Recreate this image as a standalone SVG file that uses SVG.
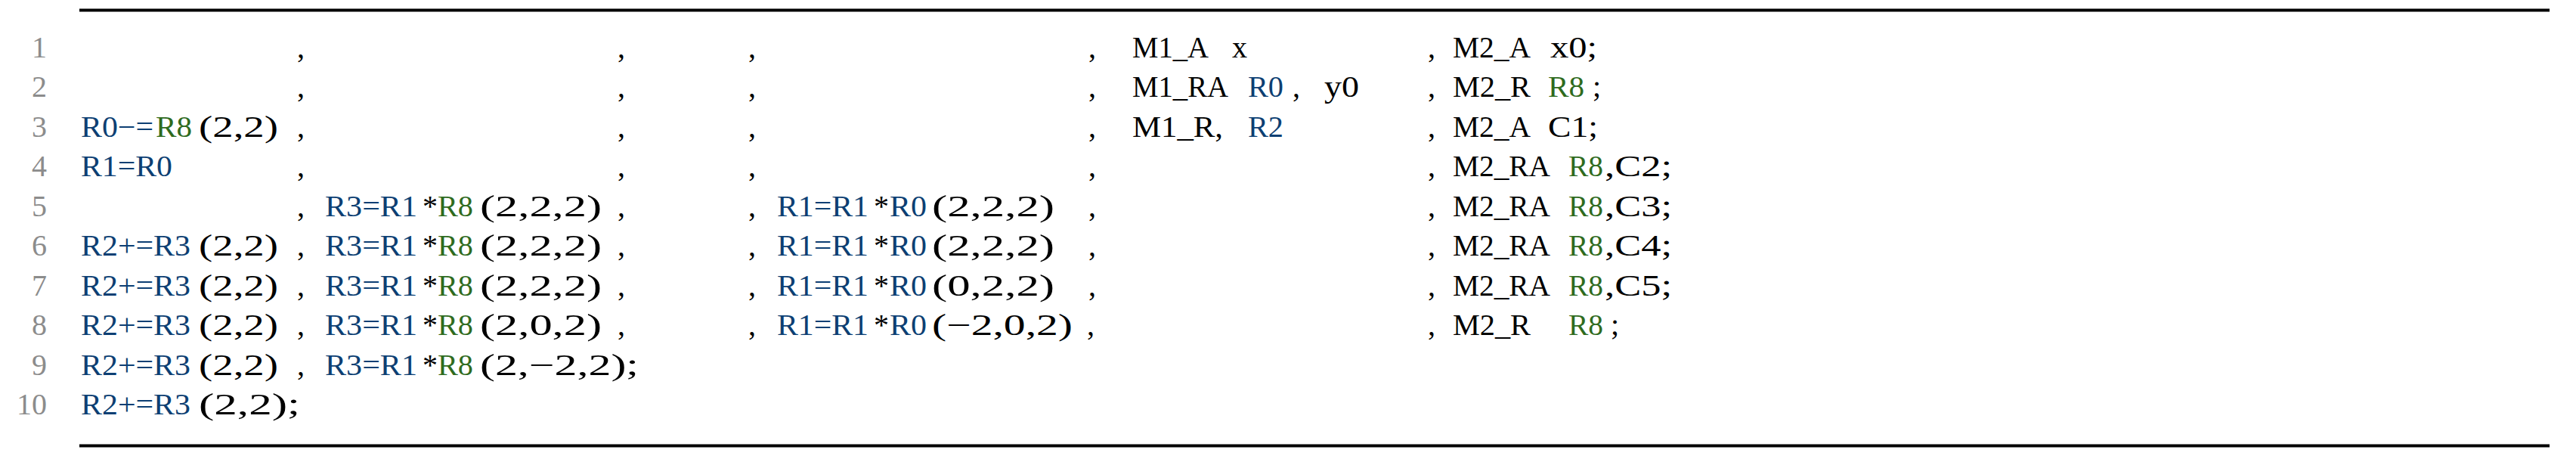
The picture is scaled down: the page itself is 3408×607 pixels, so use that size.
<svg xmlns="http://www.w3.org/2000/svg" width="3408" height="607" viewBox="0 0 3408 607">
<style>
text{font-family:"Liberation Serif","DejaVu Serif",serif;font-size:40px;fill:#000}
.n{fill:#8c8c8c;text-anchor:end}
.b{fill:#0d3f73}
.g{fill:#2f6b1e}
</style>
<rect width="3408" height="607" fill="#fff"/>
<g id="rules" stroke="#000" stroke-width="4">
<line x1="105" y1="13.5" x2="3373" y2="13.5"/>
<line x1="105" y1="589.5" x2="3373" y2="589.5"/>
</g>
<g id="numbers">
<text class="n" x="62" y="75.5">1</text><text class="n" x="62" y="128">2</text><text class="n" x="62" y="180.5">3</text><text class="n" x="62" y="233">4</text><text class="n" x="62" y="285.5">5</text><text class="n" x="62" y="338">6</text><text class="n" x="62" y="390.5">7</text><text class="n" x="62" y="443">8</text><text class="n" x="62" y="495.5">9</text><text class="n" x="62" y="548">10</text>
</g>
<g id="row1">
<text x="393" y="75.5">,</text><text x="817" y="75.5">,</text><text x="990" y="75.5">,</text><text x="1440" y="75.5">,</text>
<text x="1498" y="75.5" textLength="101" lengthAdjust="spacingAndGlyphs">M1_A</text><text x="1630" y="75.5">x</text>
<text x="1889" y="75.5">,</text><text x="1922" y="75.5" textLength="103" lengthAdjust="spacingAndGlyphs">M2_A</text><text x="2051" y="75.5" textLength="62" lengthAdjust="spacingAndGlyphs">x0;</text>
</g>
<g id="row2">
<text x="393" y="128">,</text><text x="817" y="128">,</text><text x="990" y="128">,</text><text x="1440" y="128">,</text>
<text x="1498" y="128" textLength="127" lengthAdjust="spacingAndGlyphs">M1_RA</text><text class="b" x="1651" y="128" textLength="47" lengthAdjust="spacingAndGlyphs">R0</text><text x="1710" y="128">,</text><text x="1752" y="128" textLength="46" lengthAdjust="spacingAndGlyphs">y0</text>
<text x="1889" y="128">,</text><text x="1922" y="128" textLength="103" lengthAdjust="spacingAndGlyphs">M2_R</text><text class="g" x="2048" y="128" textLength="48" lengthAdjust="spacingAndGlyphs">R8</text><text x="2107" y="128">;</text>
</g>
<g id="row3">
<text class="b" x="107" y="180.5" textLength="96" lengthAdjust="spacingAndGlyphs">R0−=</text><text class="g" x="206" y="180.5" textLength="48" lengthAdjust="spacingAndGlyphs">R8</text><text x="263" y="180.5" textLength="105" lengthAdjust="spacingAndGlyphs">(2,2)</text>
<text x="393" y="180.5">,</text><text x="817" y="180.5">,</text><text x="990" y="180.5">,</text><text x="1440" y="180.5">,</text>
<text x="1498" y="180.5" textLength="120" lengthAdjust="spacingAndGlyphs">M1_R,</text><text class="b" x="1651" y="180.5" textLength="47" lengthAdjust="spacingAndGlyphs">R2</text>
<text x="1889" y="180.5">,</text><text x="1922" y="180.5" textLength="103" lengthAdjust="spacingAndGlyphs">M2_A</text><text x="2048" y="180.5" textLength="66" lengthAdjust="spacingAndGlyphs">C1;</text>
</g>
<g id="row4">
<text class="b" x="107" y="233" textLength="121" lengthAdjust="spacingAndGlyphs">R1=R0</text>
<text x="393" y="233">,</text><text x="817" y="233">,</text><text x="990" y="233">,</text><text x="1440" y="233">,</text>
<text x="1889" y="233">,</text><text x="1922" y="233" textLength="129" lengthAdjust="spacingAndGlyphs">M2_RA</text><text class="g" x="2075" y="233" textLength="46" lengthAdjust="spacingAndGlyphs">R8</text><text x="2123" y="233" textLength="89" lengthAdjust="spacingAndGlyphs">,C2;</text>
</g>
<g id="row5">
<text x="393" y="285.5">,</text>
<text class="b" x="430" y="285.5" textLength="122" lengthAdjust="spacingAndGlyphs">R3=R1</text><text x="559" y="285.5">*</text><text class="g" x="579" y="285.5" textLength="47" lengthAdjust="spacingAndGlyphs">R8</text><text x="635" y="285.5" textLength="161" lengthAdjust="spacingAndGlyphs">(2,2,2)</text>
<text x="817" y="285.5">,</text><text x="990" y="285.5">,</text>
<text class="b" x="1028" y="285.5" textLength="121" lengthAdjust="spacingAndGlyphs">R1=R1</text><text x="1156" y="285.5">*</text><text class="b" x="1177" y="285.5" textLength="49" lengthAdjust="spacingAndGlyphs">R0</text><text x="1233" y="285.5" textLength="162" lengthAdjust="spacingAndGlyphs">(2,2,2)</text>
<text x="1440" y="285.5">,</text>
<text x="1889" y="285.5">,</text><text x="1922" y="285.5" textLength="129" lengthAdjust="spacingAndGlyphs">M2_RA</text><text class="g" x="2075" y="285.5" textLength="46" lengthAdjust="spacingAndGlyphs">R8</text><text x="2123" y="285.5" textLength="89" lengthAdjust="spacingAndGlyphs">,C3;</text>
</g>
<g id="row6">
<text class="b" x="107" y="338" textLength="145" lengthAdjust="spacingAndGlyphs">R2+=R3</text><text x="263" y="338" textLength="105" lengthAdjust="spacingAndGlyphs">(2,2)</text><text x="393" y="338">,</text>
<text class="b" x="430" y="338" textLength="122" lengthAdjust="spacingAndGlyphs">R3=R1</text><text x="559" y="338">*</text><text class="g" x="579" y="338" textLength="47" lengthAdjust="spacingAndGlyphs">R8</text><text x="635" y="338" textLength="161" lengthAdjust="spacingAndGlyphs">(2,2,2)</text>
<text x="817" y="338">,</text><text x="990" y="338">,</text>
<text class="b" x="1028" y="338" textLength="121" lengthAdjust="spacingAndGlyphs">R1=R1</text><text x="1156" y="338">*</text><text class="b" x="1177" y="338" textLength="49" lengthAdjust="spacingAndGlyphs">R0</text><text x="1233" y="338" textLength="162" lengthAdjust="spacingAndGlyphs">(2,2,2)</text>
<text x="1440" y="338">,</text>
<text x="1889" y="338">,</text><text x="1922" y="338" textLength="129" lengthAdjust="spacingAndGlyphs">M2_RA</text><text class="g" x="2075" y="338" textLength="46" lengthAdjust="spacingAndGlyphs">R8</text><text x="2123" y="338" textLength="89" lengthAdjust="spacingAndGlyphs">,C4;</text>
</g>
<g id="row7">
<text class="b" x="107" y="390.5" textLength="145" lengthAdjust="spacingAndGlyphs">R2+=R3</text><text x="263" y="390.5" textLength="105" lengthAdjust="spacingAndGlyphs">(2,2)</text><text x="393" y="390.5">,</text>
<text class="b" x="430" y="390.5" textLength="122" lengthAdjust="spacingAndGlyphs">R3=R1</text><text x="559" y="390.5">*</text><text class="g" x="579" y="390.5" textLength="47" lengthAdjust="spacingAndGlyphs">R8</text><text x="635" y="390.5" textLength="161" lengthAdjust="spacingAndGlyphs">(2,2,2)</text>
<text x="817" y="390.5">,</text><text x="990" y="390.5">,</text>
<text class="b" x="1028" y="390.5" textLength="121" lengthAdjust="spacingAndGlyphs">R1=R1</text><text x="1156" y="390.5">*</text><text class="b" x="1177" y="390.5" textLength="49" lengthAdjust="spacingAndGlyphs">R0</text><text x="1233" y="390.5" textLength="162" lengthAdjust="spacingAndGlyphs">(0,2,2)</text>
<text x="1440" y="390.5">,</text>
<text x="1889" y="390.5">,</text><text x="1922" y="390.5" textLength="129" lengthAdjust="spacingAndGlyphs">M2_RA</text><text class="g" x="2075" y="390.5" textLength="46" lengthAdjust="spacingAndGlyphs">R8</text><text x="2123" y="390.5" textLength="89" lengthAdjust="spacingAndGlyphs">,C5;</text>
</g>
<g id="row8">
<text class="b" x="107" y="443" textLength="145" lengthAdjust="spacingAndGlyphs">R2+=R3</text><text x="263" y="443" textLength="105" lengthAdjust="spacingAndGlyphs">(2,2)</text><text x="393" y="443">,</text>
<text class="b" x="430" y="443" textLength="122" lengthAdjust="spacingAndGlyphs">R3=R1</text><text x="559" y="443">*</text><text class="g" x="579" y="443" textLength="47" lengthAdjust="spacingAndGlyphs">R8</text><text x="635" y="443" textLength="161" lengthAdjust="spacingAndGlyphs">(2,0,2)</text>
<text x="817" y="443">,</text><text x="990" y="443">,</text>
<text class="b" x="1028" y="443" textLength="121" lengthAdjust="spacingAndGlyphs">R1=R1</text><text x="1156" y="443">*</text><text class="b" x="1177" y="443" textLength="49" lengthAdjust="spacingAndGlyphs">R0</text><text x="1233" y="443" textLength="186" lengthAdjust="spacingAndGlyphs">(−2,0,2)</text>
<text x="1438" y="443">,</text>
<text x="1889" y="443">,</text><text x="1922" y="443" textLength="103" lengthAdjust="spacingAndGlyphs">M2_R</text><text class="g" x="2075" y="443" textLength="46" lengthAdjust="spacingAndGlyphs">R8</text><text x="2131" y="443">;</text>
</g>
<g id="row9">
<text class="b" x="107" y="495.5" textLength="145" lengthAdjust="spacingAndGlyphs">R2+=R3</text><text x="263" y="495.5" textLength="105" lengthAdjust="spacingAndGlyphs">(2,2)</text><text x="393" y="495.5">,</text>
<text class="b" x="430" y="495.5" textLength="122" lengthAdjust="spacingAndGlyphs">R3=R1</text><text x="559" y="495.5">*</text><text class="g" x="579" y="495.5" textLength="47" lengthAdjust="spacingAndGlyphs">R8</text><text x="635" y="495.5" textLength="210" lengthAdjust="spacingAndGlyphs">(2,−2,2);</text>
</g>
<g id="row10">
<text class="b" x="107" y="548" textLength="145" lengthAdjust="spacingAndGlyphs">R2+=R3</text><text x="263" y="548" textLength="134" lengthAdjust="spacingAndGlyphs">(2,2);</text>
</g>
</svg>
